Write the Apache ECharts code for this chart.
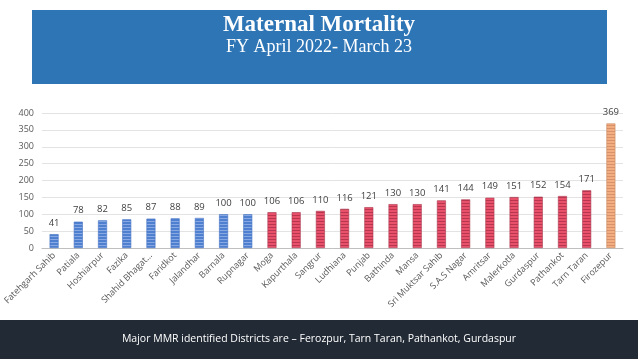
<!DOCTYPE html>
<html><head><meta charset="utf-8">
<script src="https://cdn.jsdelivr.net/npm/echarts@6/dist/echarts.min.js"></script>
<style>html,body{margin:0;padding:0;background:#fff}#c{width:638px;height:359px}</style>
</head><body><div id="c"></div>
<script>
var categories = ["Fatehgarh Sahib","Patiala","Hoshiarpur","Fazika","Shahid Bhagat...","Faridkot","Jalandhar","Barnala","Rupnagar","Moga","Kapurthala","Sangrur","Ludhiana","Punjab","Bathinda","Mansa","Sri Muktsar Sahib","S.A.S Nagar","Amritsar","Malerkotla","Gurdaspur","Pathankot","Tarn Taran","Firozepur"];
var values = [41,78,82,85,87,88,89,100,100,106,106,110,116,121,130,130,141,144,149,151,152,154,171,369];
var groups = ["b","b","b","b","b","b","b","b","b","r","r","r","r","r","r","r","r","r","r","r","r","r","r","o"];
var yTicks = [0,50,100,150,200,250,300,350,400];

function stripe(base, line){
  var c = document.createElement('canvas'); c.width = 4; c.height = 3;
  var g = c.getContext('2d'); g.fillStyle = base; g.fillRect(0,0,4,3);
  g.fillStyle = line; g.fillRect(0,2,4,1);
  return {image: c, repeat: 'repeat'};
}
var styles = {
  b: {color: stripe('#4f7fcf', '#88a9e3'), borderColor: '#4472c4'},
  r: {color: stripe('#e9506a', '#b8364f'), borderColor: '#a83a50'},
  o: {color: stripe('#f2ae80', '#d8916a'), borderColor: '#c98a60'}
};
var data = values.map(function(v,i){
  var s = styles[groups[i]];
  return {value: v, itemStyle: {color: s.color, borderColor: s.borderColor, borderWidth: 0.6}};
});

var chart = echarts.init(document.getElementById('c'));
chart.setOption({
  animation: false,
  graphic: [
    {type:'rect', shape:{x:32,y:10,width:575,height:74}, style:{fill:'#2e75b6'}},
    {type:'text', x:319, y:14, style:{text:'Maternal Mortality', fill:'#fff', font:'bold 23px "Liberation Serif"', textAlign:'center'}},
    {type:'text', x:319, y:38, style:{text:'FY April 2022- March 23', fill:'#fff', font:'18px "Liberation Serif"', textAlign:'center'}},
    {type:'rect', shape:{x:0,y:320,width:638,height:39}, style:{fill:'#222a35'}},
    {type:'text', x:319, y:334, style:{text:'Major MMR identified Districts are \u2013 Ferozpur, Tarn Taran, Pathankot, Gurdaspur', fill:'#fff', font:'10.5px "Open Sans"', textAlign:'center'}}
  ],
  grid: {left: 42, right: 15, top: 113, bottom: 111},
  xAxis: {
    type: 'category', data: categories,
    axisLine: {lineStyle: {color: '#bfbfbf'}}, axisTick: {show: false},
    axisLabel: {rotate: 45, interval: 0, fontSize: 9, color: '#595959', fontFamily: 'Open Sans', margin: 6}
  },
  yAxis: {
    type: 'value', min: 0, max: 400, interval: 50,
    axisLine: {show: false}, axisTick: {show: false},
    splitLine: {lineStyle: {color: '#e3e3e3'}},
    axisLabel: {fontSize: 9, color: '#595959', fontFamily: 'Open Sans', margin: 8,
      formatter: function(v){ return yTicks.indexOf(v) >= 0 ? String(v) : ''; }}
  },
  series: [{
    type: 'bar', data: data, barWidth: 9,
    label: {show: true, position: 'top', distance: 6, fontSize: 9.5, color: '#404040', fontFamily: 'Open Sans'}
  }]
});
</script></body></html>
